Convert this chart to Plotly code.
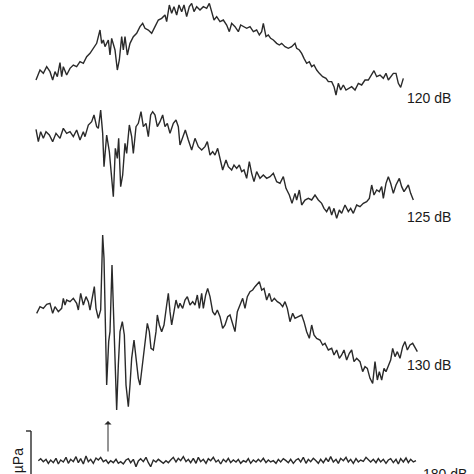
"""Waveforms recorded at increasing levels, stacked with a noise trace below."""

import plotly.graph_objects as go

# Readings: sample position and deflection (downwards positive)
t_120 = [18, 30, 40, 50, 60, 68, 75, 82, 90, 95, 100, 110, 120, 130, 140, 150, 160, 170, 180, 190,
         200, 210, 215, 220, 225, 235, 240, 245, 255, 262, 268, 275, 280, 285, 292, 300, 310, 320, 330, 338,
         345, 355, 365, 375, 385, 395, 405, 410, 418, 425, 432, 440, 447, 455, 462, 470, 478, 485, 492, 500,
         510, 520, 530, 538, 545, 552, 560, 570, 580, 590, 598, 605, 615, 625, 632, 640, 650, 660, 670, 680,
         688, 695, 700, 708, 715, 722, 730, 740, 748, 755, 765, 775, 785, 795, 800, 808, 815, 822, 830, 838,
         845, 852, 860, 868, 878, 888, 895, 905, 912, 918, 925, 932, 940, 948, 955, 965, 975, 985, 995, 1005,
         1015, 1025, 1032, 1040, 1050, 1060, 1068, 1075, 1082, 1090, 1098, 1105, 1112, 1120]
d_120 = [240, 210, 220, 200, 215, 240, 215, 230, 188, 230, 200, 225, 205, 195, 200, 185, 190, 170, 160, 145,
         130, 90, 130, 120, 140, 120, 165, 115, 150, 210, 180, 110, 150, 110, 165, 130, 110, 100, 80, 70,
         85, 90, 100, 80, 60, 55, 45, 65, 15, 40, 20, 45, 15, 35, 15, 50, 20, 10, 35, 20,
         30, 20, 25, 10, 40, 60, 50, 65, 60, 75, 95, 70, 80, 95, 75, 80, 85, 80, 95, 90,
         105, 95, 70, 110, 105, 115, 120, 130, 135, 130, 140, 145, 140, 130, 145, 150, 160, 175, 190, 185,
         200, 195, 210, 220, 230, 235, 245, 245, 260, 285, 250, 270, 255, 270, 265, 260, 270, 250, 255, 240,
         240, 225, 212, 230, 225, 235, 220, 240, 230, 220, 220, 250, 262, 235]

t_125 = [18, 25, 32, 40, 48, 58, 68, 78, 90, 100, 110, 120, 130, 140, 150, 160, 165, 175, 185, 192,
         200, 205, 212, 218, 222, 230, 238, 245, 250, 256, 262, 266, 272, 278, 285, 290, 298, 305, 310, 318,
         325, 333, 340, 348, 355, 362, 368, 375, 382, 390, 398, 405, 412, 420, 430, 438, 445, 450, 458, 466,
         475, 485, 495, 505, 515, 525, 532, 540, 548, 555, 563, 570, 578, 588, 595, 605, 612, 620, 628, 635,
         642, 650, 658, 665, 672, 680, 690, 700, 710, 720, 730, 740, 750, 760, 768, 778, 786, 795, 800, 808,
         815, 825, 835, 845, 855, 865, 875, 882, 890, 898, 905, 912, 920, 928, 935, 945, 955, 962, 970, 980,
         990, 1000, 1010, 1018, 1025, 1032, 1040, 1048, 1055, 1060, 1068, 1075, 1082, 1090, 1098, 1108, 1115, 1122, 1128, 1135,
         1142, 1150]
d_125 = [88, 125, 95, 115, 95, 105, 125, 100, 115, 85, 100, 95, 110, 90, 120, 95, 110, 75, 65, 45,
         80, 85, 30, 100, 200, 105, 155, 240, 290, 145, 175, 115, 260, 225, 130, 160, 75, 110, 160, 80,
         70, 35, 80, 70, 110, 45, 35, 45, 80, 65, 45, 80, 70, 100, 70, 60, 80, 135, 110, 90,
         120, 150, 115, 140, 150, 140, 125, 165, 155, 165, 145, 180, 210, 180, 200, 210, 195, 205, 195, 215,
         210, 235, 185, 220, 245, 215, 235, 225, 235, 230, 220, 245, 250, 230, 265, 285, 310, 280, 300, 270,
         315, 300, 295, 300, 285, 300, 310, 325, 335, 320, 345, 325, 355, 330, 340, 315, 335, 325, 340, 315,
         320, 310, 305, 295, 255, 285, 270, 275, 260, 295, 250, 230, 250, 280, 255, 235, 260, 275, 265, 255,
         280, 300]

t_130 = [20, 30, 40, 50, 60, 68, 75, 85, 95, 100, 105, 110, 120, 130, 140, 145, 152, 160, 168, 175,
         180, 188, 193, 198, 205, 212, 218, 222, 226, 230, 236, 240, 246, 250, 255, 260, 265, 270, 277, 283,
         288, 295, 300, 305, 312, 318, 325, 330, 337, 345, 352, 358, 363, 370, 378, 382, 388, 395, 402, 410,
         415, 420, 425, 432, 438, 445, 450, 458, 465, 472, 480, 488, 495, 502, 508, 515, 520, 527, 533, 540,
         548, 555, 562, 570, 578, 585, 593, 600, 608, 615, 622, 630, 638, 645, 652, 660, 668, 675, 682, 688,
         695, 702, 710, 718, 725, 733, 742, 750, 758, 765, 772, 780, 788, 795, 805, 815, 822, 830, 838, 845,
         852, 860, 870, 878, 885, 895, 905, 912, 920, 928, 935, 942, 950, 958, 965, 972, 980, 990, 998, 1005,
         1012, 1020, 1028, 1035, 1042, 1048, 1055, 1062, 1068, 1075, 1082, 1088, 1095, 1102, 1110, 1118, 1125, 1132, 1140, 1148,
         1155, 1162]
d_130 = [265, 245, 250, 238, 235, 265, 245, 260, 250, 220, 240, 225, 230, 220, 235, 255, 205, 240, 215, 230,
         255, 210, 185, 250, 280, 255, 30, 100, 300, 480, 350, 320, 120, 250, 440, 555, 420, 320, 290, 330,
         480, 545, 480, 400, 345, 400, 460, 480, 420, 360, 295, 320, 370, 375, 320, 270, 300, 320, 300, 240,
         205, 260, 300, 260, 225, 250, 235, 250, 225, 215, 240, 230, 240, 210, 250, 205, 250, 210, 190, 215,
         260, 270, 255, 275, 310, 300, 275, 270, 300, 320, 260, 240, 220, 250, 215, 200, 195, 185, 175, 170,
         195, 190, 225, 205, 230, 220, 230, 235, 245, 230, 250, 290, 265, 280, 275, 270, 290, 320, 340, 300,
         330, 340, 345, 360, 355, 375, 370, 390, 375, 400, 390, 375, 405, 385, 375, 410, 400, 410, 440, 425,
         430, 460, 475, 410, 465, 440, 465, 430, 440, 420, 405, 370, 395, 380, 400, 365, 350, 375, 360, 355,
         370, 380]

t_noise = [115, 122, 130, 138, 145, 152, 160, 168, 175, 182, 190, 198, 205, 212, 220, 228, 235, 242, 250, 258,
           265, 272, 280, 288, 295, 302, 310, 318, 325, 332, 340, 348, 355, 362, 370, 378, 385, 392, 400, 408,
           415, 422, 430, 438, 445, 452, 460, 468, 475, 482, 490, 498, 505, 512, 520, 528, 535, 542, 550, 558,
           565, 572, 580, 588, 595, 602, 610, 618, 625, 632, 640, 648, 655, 662, 670, 678, 685, 692, 700, 708,
           715, 722, 730, 738, 745, 752, 760, 768, 775, 782, 790, 798, 805, 812, 820, 828, 835, 842, 850, 858,
           865, 872, 880, 888, 895, 902, 910, 918, 925, 932, 940, 948, 955, 962, 970, 978, 985, 992, 1000, 1008,
           1015, 1022, 1030, 1038, 1045, 1052, 1060, 1068, 1075, 1082, 1090, 1098, 1105, 1112, 1120, 1128, 1135, 1142, 1150, 1158,
           1165, 1172, 1180, 1188, 1195, 1202, 1210, 1218, 1225, 1232, 1240, 1248]
d_noise = [182, 176, 185, 178, 190, 180, 188, 175, 192, 180, 186, 172, 190, 178, 185, 170, 188, 176, 192, 168,
           185, 178, 190, 174, 180, 172, 185, 180, 190, 182, 188, 178, 190, 185, 192, 180, 176, 188, 178, 200,
           183, 176, 185, 172, 188, 200, 180, 186, 178, 185, 190, 182, 188, 180, 172, 186, 175, 182, 170, 185,
           178, 188, 175, 190, 172, 185, 178, 190, 176, 182, 172, 186, 180, 192, 178, 186, 175, 188, 180, 186,
           178, 190, 182, 186, 176, 190, 180, 186, 178, 185, 175, 188, 180, 186, 182, 190, 178, 186, 176, 182,
           188, 178, 190, 180, 176, 186, 172, 190, 178, 185, 175, 182, 190, 178, 188, 175, 185, 170, 186, 178,
           190, 175, 182, 172, 186, 178, 190, 176, 186, 180, 184, 172, 180, 186, 178, 188, 176, 186, 178, 190,
           180, 176, 188, 178, 192, 176, 186, 174, 188, 178, 186, 182]

niveis = ["120 dB", "125 dB", "130 dB", "180 dB"]

COR_TRACO = "#2a2a2a"
FONTE = "Liberation Sans, Arial, sans-serif"

# (x origin, y origin, scale, label x, label y) of each trace on the page
tracos = [
    (t_120, d_120, 30, 0, 3, 405, 98),
    (t_125, d_125, 30, 100, 3, 405, 217),
    (t_130, d_130, 30, 225, 3, 405, 365),
    (t_noise, d_noise, 0, 400, 3, 421, 474),
]

fig = go.Figure()
for (t, d, x0, y0, esc, lx, ly), nome in zip(tracos, niveis):
    fig.add_trace(
        go.Scatter(
            x=[x0 + v / esc for v in t],
            y=[y0 + v / esc for v in d],
            mode="lines",
            line=dict(color=COR_TRACO, width=1.4),
            hoverinfo="skip",
            showlegend=False,
            name=nome,
        )
    )
    fig.add_annotation(
        x=lx, y=ly, text=nome, showarrow=False, xanchor="left", yanchor="middle",
        font=dict(family=FONTE, size=14, color="#1a1a1a"),
    )

# Scale bar and its label at lower left
fig.add_shape(type="line", x0=31, x1=31, y0=431, y1=480, line=dict(color=COR_TRACO, width=1.4))
fig.add_shape(type="line", x0=26, x1=31, y0=431, y1=431, line=dict(color=COR_TRACO, width=1.4))
fig.add_annotation(
    x=17, y=446, text="100 µPa", showarrow=False, textangle=-90,
    xanchor="center", yanchor="top", font=dict(family=FONTE, size=14, color="#1a1a1a"),
)

# Stimulus onset arrow
fig.add_annotation(
    x=108, y=421, ax=108, ay=453, axref="x", ayref="y", xref="x", yref="y",
    text="", showarrow=True, arrowhead=1, arrowsize=1.2, arrowwidth=1, arrowcolor=COR_TRACO,
)

fig.update_xaxes(visible=False, range=[0, 474])
fig.update_yaxes(visible=False, range=[474, 0])
fig.update_layout(
    width=474,
    height=474,
    margin=dict(l=0, r=0, t=0, b=0),
    plot_bgcolor="white",
    paper_bgcolor="white",
    showlegend=False,
)
fig.write_html(
    "out.html",
    config={"displayModeBar": False},
    post_script="document.body.style.margin='0';document.body.style.overflow='hidden';",
)
